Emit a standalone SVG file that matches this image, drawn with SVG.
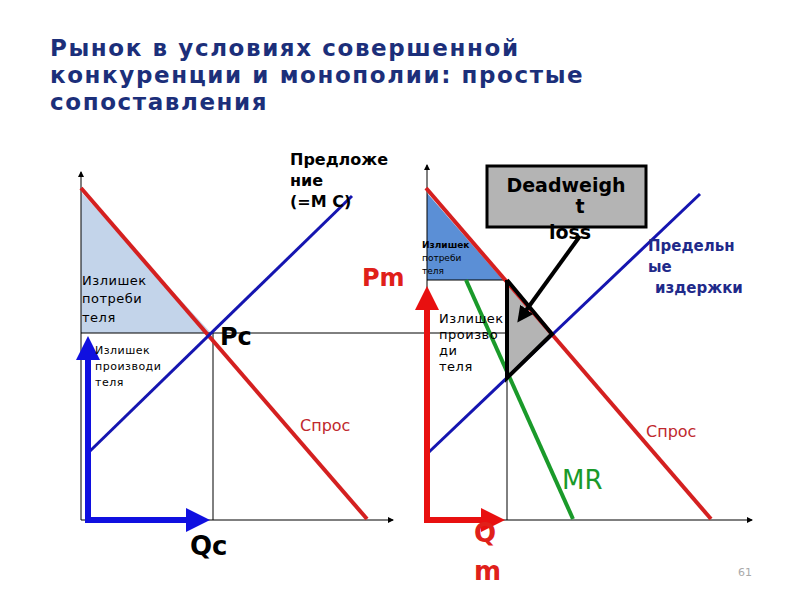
<svg xmlns="http://www.w3.org/2000/svg" width="800" height="600" viewBox="0 0 800 600">
<style>
text{font-family:"DejaVu Sans","Noto Sans",sans-serif}
.title{font-size:23px;font-weight:bold;fill:#1c2f7a;letter-spacing:1.6px}
.ax{stroke:#000;stroke-width:1;fill:none}
.thin{stroke:#000;stroke-width:1}
.dem{stroke:#d42020;stroke-width:4}
.sup{stroke:#1515b0;stroke-width:3}
.small{font-size:13px;letter-spacing:0.5px}
</style>
<defs>
<marker id="ah" markerWidth="6" markerHeight="6" refX="5" refY="3" orient="auto"><path d="M0,0 L6,3 L0,6 Z" fill="#000"/></marker>
<marker id="bh" markerWidth="4" markerHeight="4" refX="2" refY="2" orient="auto" markerUnits="strokeWidth"><path d="M0,0 L4,2 L0,4 Z" fill="#1010e0"/></marker>
<marker id="rh" markerWidth="4" markerHeight="4" refX="2" refY="2" orient="auto" markerUnits="strokeWidth"><path d="M0,0 L4,2 L0,4 Z" fill="#e81010"/></marker>
<marker id="kh" markerWidth="4" markerHeight="4" refX="2" refY="2" orient="auto" markerUnits="strokeWidth"><path d="M0,0 L4,2 L0,4 Z" fill="#000"/></marker>
</defs>
<rect width="800" height="600" fill="#fff"/>
<text x="50" y="56" class="title">Рынок в условиях совершенной</text>
<text x="50" y="83" class="title">конкуренции и монополии: простые</text>
<text x="50" y="110" class="title">сопоставления</text>
<g id="left-graph">
<polygon points="81,192 81,333 211,333" fill="#c3d4ea"/>
<line class="ax" x1="81" y1="520" x2="81" y2="172" marker-end="url(#ah)"/>
<line class="ax" x1="81" y1="520" x2="393" y2="520" marker-end="url(#ah)"/>
<line class="thin" x1="81" y1="333" x2="508" y2="333"/>
<line class="thin" x1="213" y1="333" x2="213" y2="520"/>
<line class="dem" x1="81" y1="188" x2="367" y2="519"/>
<line class="sup" x1="89" y1="452" x2="352" y2="196"/>
<line x1="88" y1="520" x2="88" y2="348" stroke="#1010e0" stroke-width="6" marker-end="url(#bh)"/>
<line x1="85" y1="520" x2="198" y2="520" stroke="#1010e0" stroke-width="6" marker-end="url(#bh)"/>
<text x="82" y="285" class="small">Излишек</text>
<text x="82" y="303" class="small">потреби</text>
<text x="82" y="322" class="small">теля</text>
<text x="95" y="354" font-size="11" letter-spacing="0.5">Излишек</text>
<text x="95" y="370" font-size="11" letter-spacing="0.5">производи</text>
<text x="95" y="386" font-size="11" letter-spacing="0.5">теля</text>
<text x="220" y="345" font-size="24" font-weight="bold">Pc</text>
<text x="300" y="431" font-size="16" fill="#c0282d">Спрос</text>
<text x="290" y="165" font-size="16" font-weight="bold">Предложе</text>
<text x="290" y="186" font-size="16" font-weight="bold">ние</text>
<text x="290" y="207" font-size="16" font-weight="bold">(=M C)</text>
<text x="190" y="555" font-size="26" font-weight="bold">Qc</text>
</g>
<g id="right-graph">
<polygon points="427,193 427,280 503,280" fill="#5b8fd6"/>
<polygon points="507,282 552,334 507,378" fill="#b4b4b4"/>
<line class="ax" x1="427" y1="520" x2="427" y2="165" marker-end="url(#ah)"/>
<line class="ax" x1="427" y1="520" x2="752" y2="520" marker-end="url(#ah)"/>
<line class="thin" x1="427" y1="280" x2="507" y2="280"/>
<line class="thin" x1="507" y1="280" x2="507" y2="520"/>
<line class="dem" x1="426" y1="188" x2="711" y2="519"/>
<line class="sup" x1="429" y1="452" x2="700" y2="194"/>
<line x1="466" y1="280" x2="573" y2="519" stroke="#1a9a2a" stroke-width="4"/>
<polyline points="507,280 552,334 507,378 507,280" fill="none" stroke="#000" stroke-width="4"/>
<line x1="427" y1="520" x2="427" y2="298" stroke="#e81010" stroke-width="6" marker-end="url(#rh)"/>
<line x1="424" y1="520" x2="493" y2="520" stroke="#e81010" stroke-width="6" marker-end="url(#rh)"/>
<text x="422" y="248" font-size="9" font-weight="bold">Излишек</text>
<text x="422" y="261" font-size="9">потреби</text>
<text x="422" y="274" font-size="9">теля</text>
<text x="439" y="323" class="small">Излишек</text>
<text x="439" y="339" class="small">произво</text>
<text x="439" y="355" class="small">ди</text>
<text x="439" y="371" class="small">теля</text>
<text x="362" y="286" font-size="24" font-weight="bold" fill="#e0201a">Pm</text>
<text x="562" y="489" font-size="26" fill="#1a9a2a">MR</text>
<text x="646" y="437" font-size="16" fill="#c0282d">Спрос</text>
<text x="648" y="251" font-size="15" font-weight="bold" fill="#1f2a8a">Предельн</text>
<text x="648" y="272" font-size="15" font-weight="bold" fill="#1f2a8a">ые</text>
<text x="655" y="293" font-size="15" font-weight="bold" fill="#1f2a8a">издержки</text>
<text x="474" y="542" font-size="26" font-weight="bold" fill="#e0201a">Q</text>
<text x="474" y="580" font-size="26" font-weight="bold" fill="#e0201a">m</text>
</g>
<g id="deadweight-loss">
<rect x="487" y="166" width="159" height="61" fill="#b4b4b4" stroke="#000" stroke-width="3"/>
<text x="566" y="192" font-size="19" font-weight="bold" text-anchor="middle">Deadweigh</text>
<text x="580" y="213" font-size="19" font-weight="bold" text-anchor="middle">t</text>
<text x="570" y="239" font-size="19" font-weight="bold" text-anchor="middle">loss</text>
</g>
<g id="connectors">
<line x1="580" y1="236" x2="522" y2="316" stroke="#000" stroke-width="4" marker-end="url(#kh)"/>
</g>
<text x="752" y="576" font-size="11" fill="#aaa" text-anchor="end">61</text>
</svg>
